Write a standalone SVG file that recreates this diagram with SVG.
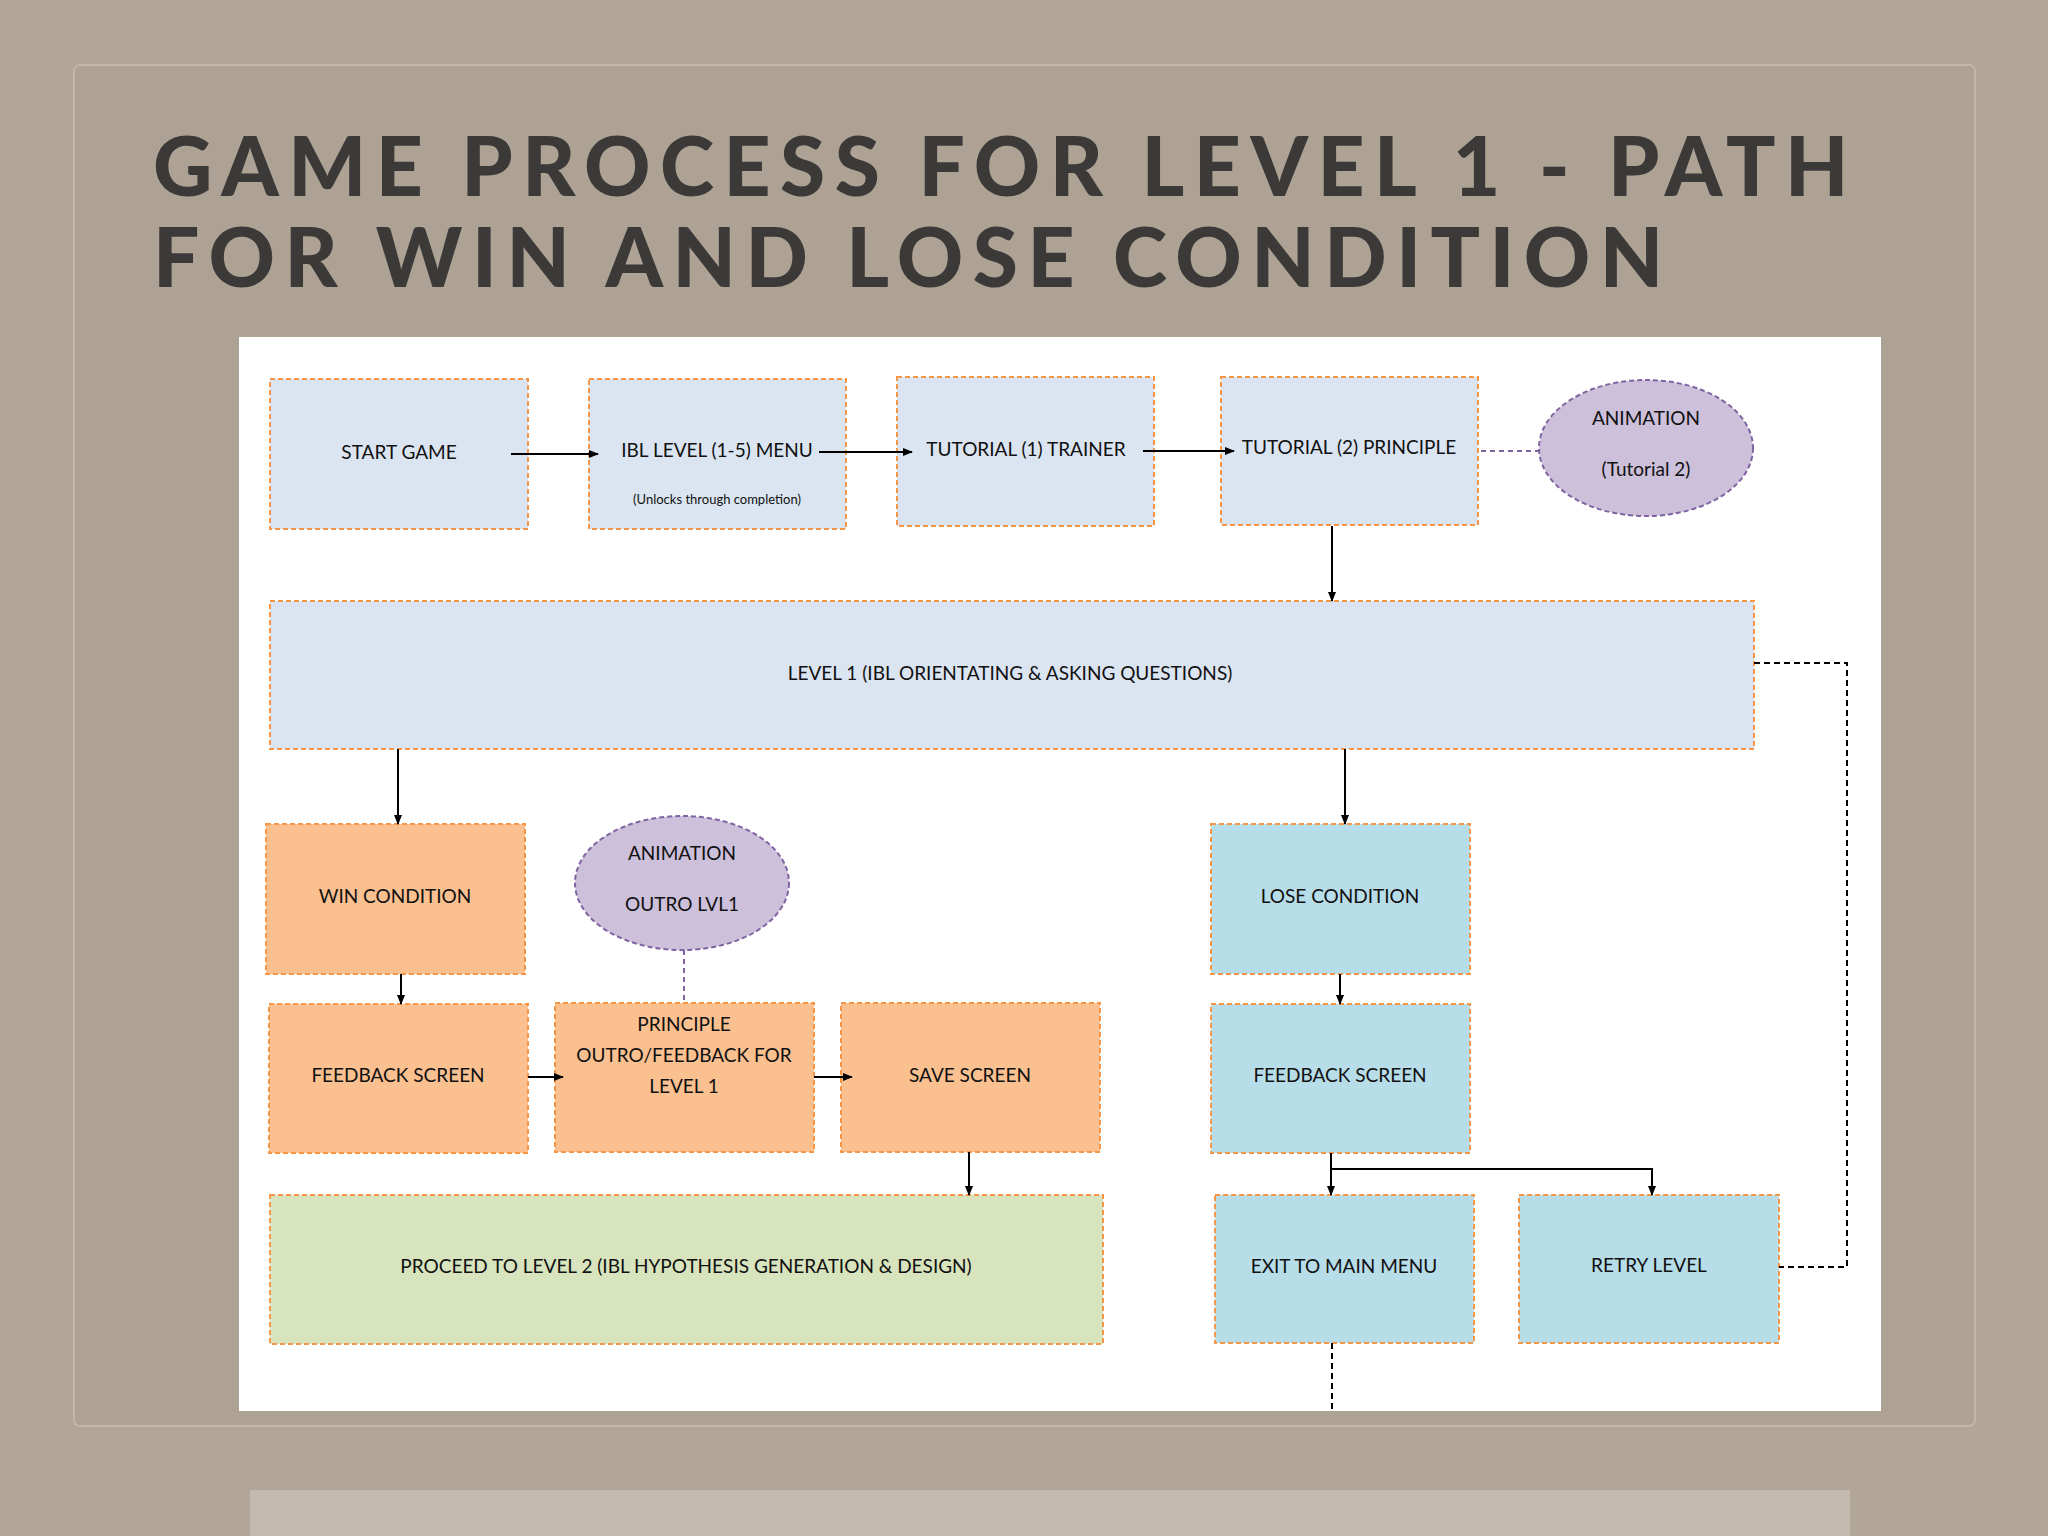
<svg xmlns="http://www.w3.org/2000/svg" width="2048" height="1536" viewBox="0 0 2048 1536">
<style>
.t{font-family:Lato,"Open Sans",sans-serif;font-size:19px;fill:#111;text-anchor:middle;dominant-baseline:middle}
.s{font-size:13px}
.n{stroke:#f79646;stroke-width:2;stroke-dasharray:5 3}
.b{fill:#dbe5f1}.o{fill:#fac090}.g{fill:#d7e4bd}.c{fill:#b7dde8}
.p{fill:#ccc0da;stroke:#8064a2;stroke-width:2;stroke-dasharray:5 3}
.e{stroke:#000;stroke-width:2;fill:none}
.d{stroke:#000;stroke-width:2;fill:none;stroke-dasharray:6 4}
.h{font-family:Lato,"Open Sans",sans-serif;font-weight:900;font-size:82px;fill:#3b3a39;letter-spacing:9.5px}
</style>
<defs><marker id="a" markerWidth="10" markerHeight="10" refX="9" refY="5" orient="auto" markerUnits="userSpaceOnUse"><path d="M0,1L10,5L0,9z" fill="#000"/></marker></defs>
<rect width="2048" height="1536" fill="#b1a697"/>
<rect x="74" y="65" width="1901" height="1361" rx="6" fill="#ada293" stroke="#c2b8aa" stroke-width="2"/>
<rect x="250" y="1490" width="1600" height="46" fill="#c4bbb0"/>
<g>
<text class="h" x="153" y="196">GAME PROCESS FOR LEVEL 1 - PATH</text>
<text class="h" x="153" y="287">FOR WIN AND LOSE CONDITION</text>
</g>
<rect x="239" y="337" width="1642" height="1074" fill="#fff"/>
<g id="start"><rect class="n b" x="270" y="379" width="258" height="150"/><text class="t" x="399" y="454">START GAME</text></g>
<g id="menu"><rect class="n b" x="589" y="379" width="257" height="150"/><text class="t" x="717" y="452">IBL LEVEL (1-5) MENU</text><text class="t s" x="717" y="501">(Unlocks through completion)</text></g>
<g id="tut1"><rect class="n b" x="897" y="377" width="257" height="149"/><text class="t" x="1026" y="451">TUTORIAL (1) TRAINER</text></g>
<g id="tut2"><rect class="n b" x="1221" y="377" width="257" height="148"/><text class="t" x="1349" y="449">TUTORIAL (2) PRINCIPLE</text></g>
<g id="anim1"><ellipse class="p" cx="1646" cy="448" rx="107" ry="68"/><text class="t" x="1646" y="420">ANIMATION</text><text class="t" x="1646" y="471">(Tutorial 2)</text></g>
<g id="level1"><rect class="n b" x="270" y="601" width="1484" height="148"/><text class="t" x="1010" y="675">LEVEL 1 (IBL ORIENTATING &amp; ASKING QUESTIONS)</text></g>
<g id="win"><rect class="n o" x="266" y="824" width="259" height="150"/><text class="t" x="395" y="898">WIN CONDITION</text></g>
<g id="anim2"><ellipse class="p" cx="682" cy="883" rx="107" ry="67"/><text class="t" x="682" y="855">ANIMATION</text><text class="t" x="682" y="906">OUTRO LVL1</text></g>
<g id="lose"><rect class="n c" x="1211" y="824" width="259" height="150"/><text class="t" x="1340" y="898">LOSE CONDITION</text></g>
<g id="fbwin"><rect class="n o" x="269" y="1004" width="259" height="149"/><text class="t" x="398" y="1077">FEEDBACK SCREEN</text></g>
<g id="principle"><rect class="n o" x="555" y="1003" width="259" height="149"/><text class="t" x="684" y="1026">PRINCIPLE</text><text class="t" x="684" y="1057">OUTRO/FEEDBACK FOR</text><text class="t" x="684" y="1088">LEVEL 1</text></g>
<g id="save"><rect class="n o" x="841" y="1003" width="259" height="149"/><text class="t" x="970" y="1077">SAVE SCREEN</text></g>
<g id="fblose"><rect class="n c" x="1211" y="1004" width="259" height="149"/><text class="t" x="1340" y="1077">FEEDBACK SCREEN</text></g>
<g id="proceed"><rect class="n g" x="270" y="1195" width="833" height="149"/><text class="t" x="686" y="1268">PROCEED TO LEVEL 2 (IBL HYPOTHESIS GENERATION &amp; DESIGN)</text></g>
<g id="exit"><rect class="n c" x="1215" y="1195" width="259" height="148"/><text class="t" x="1344" y="1268">EXIT TO MAIN MENU</text></g>
<g id="retry"><rect class="n c" x="1519" y="1195" width="260" height="148"/><text class="t" x="1649" y="1267">RETRY LEVEL</text></g>
<g id="connectors">
<path class="e" marker-end="url(#a)" d="M511,454H598"/>
<path class="e" marker-end="url(#a)" d="M819,452H912"/>
<path class="e" marker-end="url(#a)" d="M1143,451H1234"/>
<path d="M1481,451H1539" stroke="#8064a2" stroke-width="2" stroke-dasharray="5 4" fill="none"/>
<path class="e" marker-end="url(#a)" d="M1332,526V601"/>
<path class="e" marker-end="url(#a)" d="M398,749V824"/>
<path class="e" marker-end="url(#a)" d="M1345,749V824"/>
<path class="e" marker-end="url(#a)" d="M401,974V1004"/>
<path class="e" marker-end="url(#a)" d="M528,1077H563"/>
<path class="e" marker-end="url(#a)" d="M814,1077H852"/>
<path d="M684,950V1003" stroke="#8064a2" stroke-width="2" stroke-dasharray="5 4" fill="none"/>
<path class="e" marker-end="url(#a)" d="M969,1152V1195"/>
<path class="e" marker-end="url(#a)" d="M1340,974V1004"/>
<path class="e" marker-end="url(#a)" d="M1331,1153V1195"/>
<path class="e" marker-end="url(#a)" d="M1331,1169H1652V1195"/>
<path class="d" d="M1754,663H1847V1267H1779"/>
<path class="d" d="M1332,1343V1411"/>
</g>
</svg>
